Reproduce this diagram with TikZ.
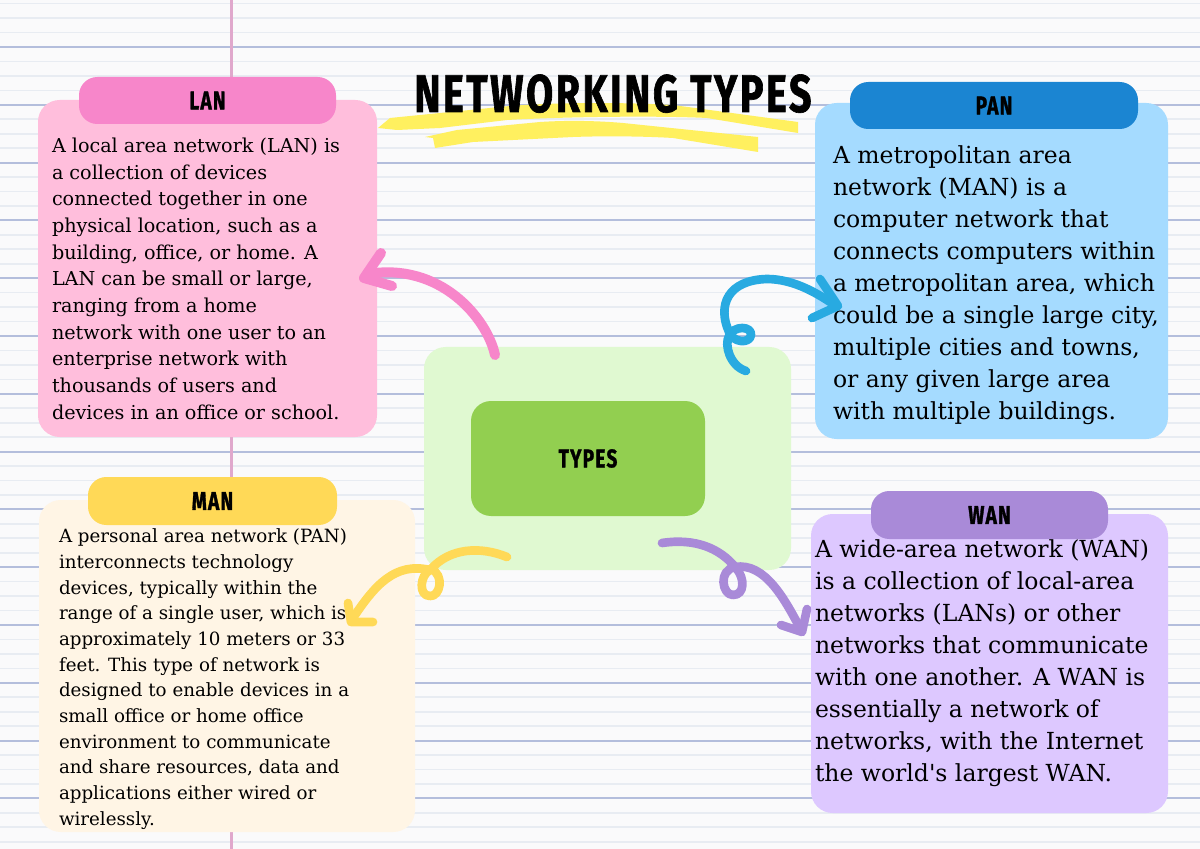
\documentclass[tikz,border=0pt]{standalone}
\usepackage{fontspec}
\setmainfont{DejaVu Serif}
\newfontfamily\plainserif{DejaVu Serif}
\newfontfamily\hdfont[FakeStretch=.74,FakeBold=1.2,LetterSpace=5]{Fira Sans Bold}
\definecolor{paper}{HTML}{FAFAFB}
\definecolor{lineL}{HTML}{E8ECF2}
\definecolor{lineB}{HTML}{B4BEDC}
\definecolor{margin}{HTML}{E0A8CC}
\definecolor{pinkB}{HTML}{FFBEDC}
\definecolor{pinkH}{HTML}{F786CA}
\definecolor{blueB}{HTML}{A5DBFF}
\definecolor{blueH}{HTML}{1B85D2}
\definecolor{creamB}{HTML}{FFF5E5}
\definecolor{yellowH}{HTML}{FFD957}
\definecolor{violetB}{HTML}{DDC8FF}
\definecolor{violetH}{HTML}{A98AD8}
\definecolor{greenO}{HTML}{E0F9D1}
\definecolor{greenI}{HTML}{92CF50}
\definecolor{brush}{HTML}{FFF05F}
\definecolor{arrowBlue}{HTML}{28AAE1}
\newcommand{\bx}[7]{\node[draw=none,fill=#6,rounded corners=#7,inner sep=0pt,outer sep=0pt,
  minimum width={(#4-#2)*0.6pt},minimum height={(#5-#3)*0.6pt}] (#1) at ({(#2+#4)/2},{(#3+#5)/2}) {};}
\tikzset{
  headtext/.style={font=\hdfont\fontsize{15.4pt}{16pt}\selectfont,text=black},
  bodytext/.style={anchor=north west,inner sep=0pt,outer sep=0pt,align=left,text=black},
  curl/.style={line width=5.2pt,line cap=round,line join=round},
}
\begin{document}
\begin{tikzpicture}[x=0.6pt,y=-0.6pt]
\useasboundingbox (0,0) rectangle (1200,849);
\fill[paper] (0,0) rectangle (1200,849);
% ruled lines
\foreach \k in {-3,...,55}{
  \pgfmathsetmacro{\yy}{47+14.45*\k}
  \pgfmathtruncatemacro{\m}{mod(\k+40,4)}
  \ifnum\m=0
    \draw[lineB,line width=1.2pt] (0,\yy) -- (1200,\yy);
  \else
    \draw[lineL,line width=1pt] (0,\yy) -- (1200,\yy);
  \fi
}
\draw[margin,line width=1.8pt] (231,0) -- (231,849);
% title brush
\fill[brush] (378,128) -- (390,118) -- (440,113) -- (490,108) .. controls (540,102) and (620,102) .. (673,105) -- (798,122) -- (798,133) -- (707,118) .. controls (670,116) and (580,116) .. (507,120) -- (440,128) -- (397,130) -- cycle;
\fill[brush] (425,137) -- (457,130) -- (540,122) .. controls (570,120) and (600,121) .. (623,123) -- (758,137) -- (758,152) -- (673,138) .. controls (640,136) and (600,136) .. (573,137) -- (473,142) -- (435,148) -- (433,138) -- cycle;
\node[anchor=base,inner sep=0pt,font=\hdfont\fontsize{31.8pt}{34pt}\selectfont] (title) at (613,112) {NETWORKING TYPES};
% LAN
\bx{lanB}{38}{100}{377}{437}{pinkB}{13pt}
\bx{lanH}{79}{77}{336}{124}{pinkH}{11pt}
\node[headtext] (lanT) at (lanH) {LAN};
\node[bodytext,font=\fontsize{11.5pt}{16pt}\selectfont] (lanX) at (52,138) {A local area network (LAN) is\\a collection of devices\\connected together in one\\physical location, such as a\\building, office, or home. A\\LAN can be small or large,\\ranging from a home\\network with one user to an\\enterprise network with\\thousands of users and\\devices in an office or school.};
% PAN
\bx{panB}{815}{103}{1168}{439}{blueB}{13pt}
\bx{panH}{850}{82}{1138}{129}{blueH}{11pt}
\node[headtext] (panT) at (panH) {PAN};
\node[bodytext,font=\fontsize{14.1pt}{19.2pt}\selectfont] (panX) at (833,146) {A metropolitan area\\network (MAN) is a\\computer network that\\connects computers within\\a metropolitan area, which\\could be a single large city,\\multiple cities and towns,\\or any given large area\\with multiple buildings.};
% MAN
\bx{manB}{39}{500}{415}{832}{creamB}{13pt}
\bx{manH}{88}{477}{337}{525}{yellowH}{11pt}
\node[headtext] (manT) at (manH) {MAN};
\node[bodytext,font=\fontsize{10.95pt}{15.4pt}\selectfont] (manX) at (59,529) {A personal area network (PAN)\\interconnects technology\\devices, typically within the\\range of a single user, which is\\approximately 10 meters or 33\\feet. This type of network is\\designed to enable devices in a\\small office or home office\\environment to communicate\\and share resources, data and\\applications either wired or\\wirelessly.};
% WAN
\bx{wanB}{811}{514}{1168}{813}{violetB}{13pt}
\bx{wanH}{871}{491}{1108}{539}{violetH}{11pt}
\node[headtext] (wanT) at (wanH) {WAN};
\node[bodytext,font=\fontsize{14.1pt}{19.2pt}\selectfont] (wanX) at (815,540) {A wide-area network (WAN)\\is a collection of local-area\\networks (LANs) or other\\networks that communicate\\with one another. A WAN is\\essentially a network of\\networks, with the Internet\\the world{\plainserif '}s largest WAN.};
% TYPES
\bx{outer}{424}{347}{791}{570}{greenO}{13pt}
\bx{inner}{471}{401}{705}{516}{greenI}{12pt}
\node[headtext] (typesT) at (inner) {TYPES};
% connectors
\coordinate (pS) at (495,355);
\coordinate (pT) at (364,278);
\coordinate (pU) at (381,253);
\coordinate (pD) at (392,286);
\draw[curl,pinkH,line width=6pt] (pS) .. controls (487,318) and (440,262) .. (368,274);
\draw[curl,pinkH,line width=6pt] (pU) -- (pT) -- (pD);
\coordinate (bS) at (746,371);
\coordinate (bT) at (838,306);
\coordinate (bU) at (820,279);
\coordinate (bD) at (812,318);
\draw[curl,arrowBlue] (bS) .. controls (730,366) and (724,345) .. (729,336) .. controls (734,325) and (752,326) .. (751,335) .. controls (750,344) and (733,343) .. (729,332) .. controls (717,305) and (728,280) .. (767,279) .. controls (795,279) and (820,295) .. (836,306);
\draw[curl,arrowBlue] (bU) -- (bT) -- (bD);
\coordinate (yS) at (507,557);
\coordinate (yT) at (351,622);
\coordinate (yU) at (348,603);
\coordinate (yD) at (373,622);
\draw[curl,yellowH] (yS) .. controls (480,546) and (450,548) .. (431,569) .. controls (445,575) and (440,597) .. (430,596) .. controls (418,596) and (420,575) .. (430,570) .. controls (395,562) and (375,585) .. (353,618);
\draw[curl,yellowH] (yU) -- (yT) -- (yD);
\coordinate (vS) at (662,543);
\coordinate (vT) at (802,632);
\coordinate (vU) at (807,609);
\coordinate (vD) at (781,625);
\draw[curl,violetH] (vS) .. controls (695,538) and (720,548) .. (736,568) .. controls (745,578) and (745,595) .. (733,595) .. controls (722,595) and (718,570) .. (735,567) .. controls (765,562) and (785,600) .. (800,628);
\draw[curl,violetH] (vU) -- (vT) -- (vD);
\end{tikzpicture}
\end{document}
